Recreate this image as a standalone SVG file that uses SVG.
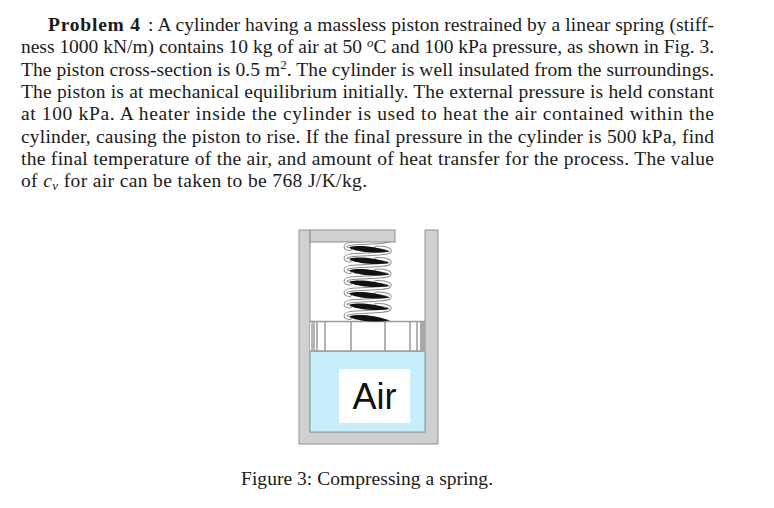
<svg xmlns="http://www.w3.org/2000/svg" width="774" height="508" viewBox="0 0 774 508">
<style>
.t{font-family:"Liberation Serif","Times New Roman",serif;font-size:19.500px;fill:#1a1a1a}
.b{font-weight:bold}
.wall{fill:#d0d0d0;stroke:#8f8f8f;stroke-width:1}
.v{stroke:#9a9a9a;stroke-width:1.5;fill:none}
.coilb{fill:#111}
.coil{fill:none;stroke:#8c8c8c;stroke-width:3.800;stroke-linecap:round}
.coilw{fill:none;stroke:#fff;stroke-width:1.900;stroke-linecap:round}
</style>
<defs>
<path id="strand" d="M376 0.500C386 0.500 392 2.500 389 5C384 7.500 362 7 350 8.500C344 9.500 344 13 350 13.500"/>
<g id="turn">
<use href="#strand" class="coil"/>
<use href="#strand" class="coilw"/>
</g>
<path id="lens" class="coilb" d="M350 -0.500C358 -2.500 374 -1.500 390 4C376 6.500 358 4.500 350 1Z"/>
</defs>
<rect width="774" height="508" fill="#fff"/>
<g id="problem-text">
<text class="t b" x="48" y="31" textLength="92" lengthAdjust="spacing">Problem 4</text>
<text class="t" x="148" y="31" textLength="566" lengthAdjust="spacing">: A cylinder having a massless piston restrained by a linear spring (stiff-</text>
<text class="t" x="21" y="53.300" textLength="693" lengthAdjust="spacing">ness 1000 kN/m) contains 10 kg of air at 50 <tspan font-style="italic" font-size="13" dy="-6">o</tspan><tspan dy="6">C and 100 kPa pressure, as shown in Fig. 3.</tspan></text>
<text class="t" x="21" y="75.600" textLength="693" lengthAdjust="spacing">The piston cross-section is 0.5 m<tspan font-size="13" dy="-7">2</tspan><tspan dy="7">. The cylinder is well insulated from the surroundings.</tspan></text>
<text class="t" x="21" y="97.900" textLength="693" lengthAdjust="spacing">The piston is at mechanical equilibrium initially. The external pressure is held constant</text>
<text class="t" x="21" y="120.200" textLength="693" lengthAdjust="spacing">at 100 kPa. A heater inside the cylinder is used to heat the air contained within the</text>
<text class="t" x="21" y="142.500" textLength="693" lengthAdjust="spacing">cylinder, causing the piston to rise. If the final pressure in the cylinder is 500 kPa, find</text>
<text class="t" x="21" y="164.800" textLength="693" lengthAdjust="spacing">the final temperature of the air, and amount of heat transfer for the process. The value</text>
<text class="t" x="21" y="187" textLength="346" lengthAdjust="spacing">of <tspan font-style="italic">c</tspan><tspan font-style="italic" font-size="13" dy="3">v</tspan><tspan dy="-3"> for air can be taken to be 768 J/K/kg.</tspan></text>
</g>
<g id="cylinder">
<path class="wall" d="M299 230H310V432H425V230H438V444H299Z"/>
</g>
<g id="air">
<rect x="310" y="351" width="115" height="81" fill="#c9eefb" stroke="#8f9a9f" stroke-width="1"/>
<rect x="339" y="369" width="71" height="54" fill="#fff"/>
<text x="374.500" y="409" text-anchor="middle" font-family="Liberation Sans,Arial,sans-serif" font-size="36" fill="#111">Air</text>
</g>
<g id="piston">
<rect x="310" y="322" width="115" height="29" fill="#fff"/>
<path class="v" d="M310 321.500H425M310 351H425M314 322V351M317 322V351M325 322V351M351 322V351M385 322V351M410 322V351M417 322V351"/>
<rect x="420" y="322" width="5" height="29" fill="#a8a8a8"/>
<rect x="311" y="322" width="3" height="29" fill="#b5b5b5"/>
</g>
<g id="spring">
<use href="#turn" y="235.500"/>
<use href="#turn" y="247"/>
<use href="#turn" y="258.500"/>
<use href="#turn" y="270"/>
<use href="#turn" y="281.500"/>
<use href="#turn" y="293"/>
<use href="#turn" y="304.500"/>
<use href="#lens" y="247.500"/>
<use href="#lens" y="259"/>
<use href="#lens" y="270.500"/>
<use href="#lens" y="282"/>
<use href="#lens" y="293.500"/>
<use href="#lens" y="305"/>
<use href="#lens" y="316.500"/>
</g>
<g id="cap">
<rect x="310" y="230" width="85" height="12" fill="#d0d0d0" stroke="#8f8f8f" stroke-width="1"/>
</g>
<g id="caption">
<text class="t" x="241" y="484.500" textLength="252" lengthAdjust="spacing">Figure 3: Compressing a spring.</text>
</g>
</svg>
